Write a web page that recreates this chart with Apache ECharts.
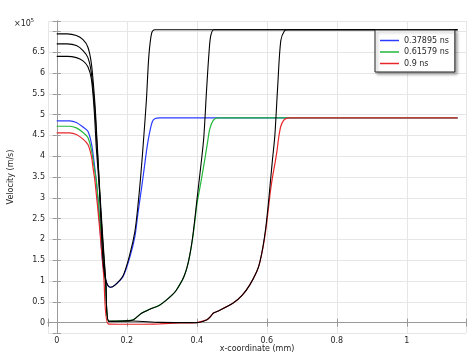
<!DOCTYPE html>
<html><head><meta charset="utf-8">
<script src="https://cdn.jsdelivr.net/npm/echarts@6/dist/echarts.min.js"></script>
<style>html,body{margin:0;padding:0;background:#fff}#c{width:475px;height:358px}</style>
</head><body><div id="c"></div>
<script>
// Velocity values are in units of 1e5 m/s, x in mm
const seriesNames = ['0.37895 ns', '0.61579 ns', '0.9 ns'];

const blueX = [0, 0.037, 0.056, 0.075, 0.089, 0.099, 0.106, 0.114, 0.123, 0.131, 0.140, 0.147, 0.154, 0.166, 0.189, 0.209, 0.223, 0.232, 0.242, 0.250, 0.258, 0.266, 0.273, 0.280, 0.294, 1.145];
const blueY = [4.85, 4.85, 4.81, 4.70, 4.60, 4.31, 3.90, 3.30, 2.34, 1.46, 1.02, 0.88, 0.85, 0.90, 1.10, 1.58, 2.06, 2.63, 3.22, 3.72, 4.22, 4.60, 4.83, 4.90, 4.92, 4.92];

const greenX = [0, 0.037, 0.056, 0.075, 0.089, 0.099, 0.106, 0.113, 0.123, 0.131, 0.140, 0.149, 0.190, 0.218, 0.242, 0.266, 0.294, 0.313, 0.329, 0.340, 0.356, 0.364, 0.372, 0.380, 0.388, 0.394, 0.400, 0.408, 0.416, 0.424, 0.431, 0.437, 0.447, 0.460, 1.145];
const greenY = [4.72, 4.72, 4.68, 4.57, 4.45, 4.15, 3.78, 3.42, 2.50, 1.67, 0.86, 0.03, 0.04, 0.065, 0.225, 0.32, 0.42, 0.54, 0.66, 0.76, 0.98, 1.12, 1.32, 1.62, 2.02, 2.40, 2.82, 3.20, 3.58, 3.98, 4.35, 4.65, 4.86, 4.92, 4.92];

const redX = [0, 0.037, 0.056, 0.075, 0.089, 0.099, 0.104, 0.109, 0.123, 0.134, 0.147, 0.180, 0.237, 0.294, 0.351, 0.399, 0.428, 0.437, 0.447, 0.456, 0.504, 0.530, 0.551, 0.571, 0.580, 0.589, 0.597, 0.604, 0.611, 0.618, 0.624, 0.629, 0.634, 0.640, 0.648, 0.656, 0.666, 1.145];
const redY = [4.56, 4.56, 4.52, 4.41, 4.28, 4.00, 3.70, 3.42, 2.22, 1.14, -0.03, -0.04, -0.04, -0.03, -0.01, 0.00, 0.065, 0.125, 0.225, 0.26, 0.47, 0.66, 0.90, 1.22, 1.45, 1.80, 2.22, 2.70, 3.20, 3.58, 3.86, 4.12, 4.45, 4.72, 4.86, 4.91, 4.92, 4.92];

const black1X = [0, 0.030, 0.056, 0.075, 0.089, 0.099, 0.109, 0.115, 0.121, 0.127, 0.133, 0.140, 0.147, 0.154, 0.166, 0.189, 0.209, 0.223, 0.232, 0.240, 0.248, 0.256, 0.263, 0.271, 0.280, 1.145];
const black1Y = [6.94, 6.94, 6.90, 6.80, 6.62, 6.22, 5.27, 4.38, 3.42, 2.30, 1.40, 1.02, 0.88, 0.85, 0.90, 1.12, 1.65, 2.18, 2.82, 3.54, 4.40, 5.34, 6.40, 6.96, 7.04, 7.04];

const black2X = [0, 0.030, 0.056, 0.075, 0.089, 0.099, 0.109, 0.115, 0.121, 0.131, 0.140, 0.149, 0.190, 0.218, 0.242, 0.266, 0.294, 0.313, 0.329, 0.340, 0.356, 0.364, 0.372, 0.380, 0.388, 0.394, 0.400, 0.406, 0.412, 0.420, 0.428, 0.435, 0.440, 0.449, 1.145];
const black2Y = [6.70, 6.70, 6.66, 6.54, 6.37, 5.99, 5.10, 4.26, 3.42, 2.10, 1.00, 0.03, 0.04, 0.065, 0.225, 0.32, 0.42, 0.54, 0.66, 0.76, 0.98, 1.12, 1.32, 1.62, 2.04, 2.46, 2.92, 3.36, 3.80, 4.45, 5.60, 6.50, 6.90, 7.04, 7.04];

const black3X = [0, 0.030, 0.056, 0.075, 0.089, 0.099, 0.107, 0.113, 0.120, 0.131, 0.140, 0.149, 0.217, 0.294, 0.399, 0.428, 0.437, 0.447, 0.456, 0.504, 0.530, 0.551, 0.571, 0.580, 0.589, 0.597, 0.604, 0.610, 0.616, 0.623, 0.631, 0.640, 0.651, 0.660, 1.145];
const black3Y = [6.40, 6.40, 6.37, 6.29, 6.15, 5.85, 5.10, 4.20, 3.42, 1.98, 0.95, 0.03, 0.04, 0.005, 0.00, 0.065, 0.125, 0.225, 0.26, 0.47, 0.66, 0.90, 1.22, 1.45, 1.82, 2.28, 2.82, 3.36, 3.90, 4.50, 5.66, 6.78, 7.02, 7.04, 7.04];

const xTickLabels = ['0', '0.2', '0.4', '0.6', '0.8', '1'];
const yTickLabels = ['0', '0.5', '1', '1.5', '2', '2.5', '3', '3.5', '4', '4.5', '5', '5.5', '6', '6.5'];
const xTitle = 'x-coordinate (mm)';
const yTitle = 'Velocity (m/s)';
const yExpBase = '×10';
const yExpPow = '5';

const FONT = 'DejaVu Sans';
const TXT = '#262626';
const AX = '#9a9a9a';
const GRID = '#e6e6e6';

function pairs(xs, ys) { return xs.map((x, i) => [x, ys[i]]); }
function fmt(v) { return String(Math.round(v * 10) / 10); }

const chart = echarts.init(document.getElementById('c'), null, { renderer: 'canvas' });

function line(name, xs, ys, color, w) {
  return {
    type: 'line', name: name, data: pairs(xs, ys), showSymbol: false, symbol: 'none',
    smooth: 0.3,
    lineStyle: { color: color, width: w }, itemStyle: { color: color },
    emphasis: { disabled: true }, silent: true, animation: false
  };
}

const option = {
  animation: false,
  grid: { left: 48, right: 9, top: 21, bottom: 25, containLabel: false, outerBoundsMode: 'none' },
  xAxis: [{
    type: 'value', min: -0.025, max: 1.169, splitNumber: 6, position: 'bottom',
    axisLine: { show: true, lineStyle: { color: AX, width: 1 } },
    axisTick: { show: true, inside: true, length: 4, lineStyle: { color: AX } },
    axisLabel: {
      fontSize: 8, fontFamily: FONT, color: TXT, margin: 4,
      formatter: v => { const s = fmt(v); return (Math.abs(v - Math.round(v * 5) / 5) < 1e-6 && xTickLabels.includes(s)) ? s : ''; }
    },
    splitLine: { show: true, lineStyle: { color: GRID, width: 1 } },
    name: xTitle, nameLocation: 'middle', nameGap: 12, nameMoveOverlap: false,
    nameTextStyle: { fontSize: 8, fontFamily: FONT, color: TXT }
  }, {
    type: 'value', min: -0.025, max: 1.169, splitNumber: 6, position: 'top',
    axisLine: { show: true, lineStyle: { color: AX, width: 1 } },
    axisTick: { show: true, inside: true, length: 4, lineStyle: { color: AX } },
    axisLabel: { show: false }, splitLine: { show: false }
  }],
  yAxis: [{
    type: 'value', min: -0.25, max: 7.25, splitNumber: 15, position: 'left',
    axisLine: { show: true, lineStyle: { color: AX, width: 1 } },
    axisTick: { show: true, inside: true, length: 4, lineStyle: { color: AX } },
    axisLabel: {
      fontSize: 8, fontFamily: FONT, color: TXT, margin: 3,
      formatter: v => { const s = fmt(v); return (Math.abs(v - Math.round(v * 2) / 2) < 1e-6 && yTickLabels.includes(s)) ? s : ''; }
    },
    splitLine: { show: true, lineStyle: { color: GRID, width: 1 } },
    name: yTitle, nameLocation: 'middle', nameRotate: 90, nameGap: 33, nameMoveOverlap: false,
    nameTextStyle: { fontSize: 8, fontFamily: FONT, color: TXT }
  }, {
    type: 'value', min: -0.25, max: 7.25, splitNumber: 15, position: 'right',
    axisLine: { show: true, lineStyle: { color: AX, width: 1 } },
    axisTick: { show: true, inside: true, length: 4, lineStyle: { color: AX } },
    axisLabel: { show: false }, splitLine: { show: false }
  }],
  legend: {
    data: seriesNames, orient: 'vertical', left: 375, top: 30,
    icon: 'rect', itemWidth: 19, itemHeight: 1.5, itemGap: 0.5,
    padding: [5, 6, 3, 5], selectedMode: false,
    textStyle: { fontSize: 8, fontFamily: FONT, color: TXT, lineHeight: 11 },
    backgroundColor: '#fff', borderColor: '#222', borderWidth: 1,
    shadowBlur: 3, shadowColor: 'rgba(0,0,0,0.35)', shadowOffsetX: 2, shadowOffsetY: 2
  },
  graphic: [
    { type: 'text', left: 14, top: 20, style: { text: yExpBase, font: '8px "DejaVu Sans"', fill: TXT } },
    { type: 'text', left: 30.5, top: 17.5, style: { text: yExpPow, font: '5.5px "DejaVu Sans"', fill: TXT } }
  ],
  series: [
    line(seriesNames[0], blueX, blueY, '#2a3cff', 1.2),
    line(seriesNames[1], greenX, greenY, '#22b83a', 1.2),
    line(seriesNames[2], redX, redY, '#e8262a', 1.2),
    line('black1', black1X, black1Y, '#000000', 1.1),
    line('black2', black2X, black2Y, '#000000', 1.1),
    line('black3', black3X, black3Y, '#000000', 1.1)
  ]
};
chart.setOption(option);
</script></body></html>
